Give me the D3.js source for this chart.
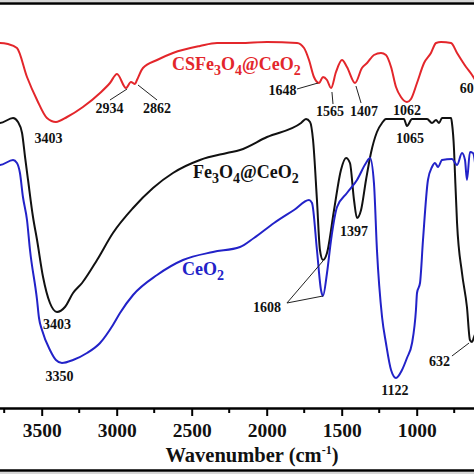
<!DOCTYPE html>
<html>
<head>
<meta charset="utf-8">
<script src="https://cdn.jsdelivr.net/npm/d3@7"></script>
<style>
  body { margin: 0; background: #fff; }
  text { font-family: "Times New Roman", "Liberation Serif", serif; font-weight: bold; }
</style>
</head>
<body>
<script>
// FTIR spectra: wavenumber (cm-1) and transmittance (a.u.)
var csWave = [3850, 3778, 3725, 3665, 3598, 3531, 3465, 3405, 3331, 3225, 3111, 3045, 2998, 2938, 2905, 2878, 2865, 2825, 2731, 2625, 2445, 2331, 2178, 1998, 1798, 1751, 1718, 1685, 1651, 1625, 1598, 1571, 1538, 1498, 1465, 1411, 1365, 1331, 1285, 1238, 1205, 1171, 1138, 1105, 1065, 1038, 998, 951, 905, 871, 838, 771, 731, 671, 631, 578];
var csTrans = [365, 365, 364, 360, 331, 308, 290, 286, 291, 301, 315, 325, 334, 320, 326, 324, 328, 340, 348, 355, 362, 365, 365, 366, 365, 360, 348, 331, 325, 331, 328, 320, 336, 348, 341, 325, 340, 345, 353, 355, 353, 341, 321, 311, 306, 309, 325, 345, 355, 365, 366, 365, 355, 341, 333, 320];

var feWave = [3845, 3778, 3691, 3658, 3631, 3611, 3591, 3558, 3531, 3491, 3445, 3398, 3345, 3291, 3231, 3131, 3025, 2891, 2758, 2625, 2445, 2265, 2178, 1998, 1771, 1738, 1711, 1691, 1665, 1645, 1625, 1598, 1551, 1505, 1471, 1445, 1418, 1398, 1371, 1338, 1305, 1265, 1231, 1205, 1085, 1065, 1031, 931, 898, 871, 851, 831, 771, 765, 751, 745, 731, 698, 665, 645, 631, 618, 578];
var feTrans = [285, 285, 290, 286, 275, 251, 228, 191, 168, 131, 105, 96, 101, 115, 125, 148, 175, 200, 220, 235, 248, 255, 258, 271, 285, 289, 286, 268, 208, 158, 148, 155, 198, 238, 250, 245, 208, 190, 198, 228, 255, 276, 285, 289, 289, 282, 289, 289, 285, 288, 285, 290, 290, 285, 258, 235, 185, 135, 101, 68, 66, 71, 88];

var ceWave = [3845, 3778, 3691, 3665, 3645, 3625, 3598, 3578, 3531, 3518, 3498, 3445, 3405, 3365, 3291, 3198, 3111, 3025, 2978, 2891, 2731, 2558, 2358, 2178, 2085, 1951, 1818, 1718, 1698, 1665, 1638, 1625, 1598, 1571, 1531, 1465, 1398, 1338, 1311, 1285, 1265, 1231, 1205, 1171, 1138, 1098, 1065, 1031, 1005, 998, 978, 958, 925, 898, 878, 858, 831, 765, 731, 698, 678, 665, 645, 625, 605];
var ceTrans = [243, 243, 248, 245, 235, 211, 188, 158, 108, 90, 78, 58, 48, 45, 48, 55, 65, 83, 95, 113, 133, 148, 156, 161, 170, 185, 198, 208, 205, 158, 118, 112, 135, 168, 201, 215, 228, 245, 250, 225, 158, 91, 65, 38, 30, 38, 50, 65, 98, 115, 125, 168, 228, 241, 245, 241, 248, 249, 243, 255, 248, 228, 256, 255, 238];

var majorTicks = [3500, 3000, 2500, 2000, 1500, 1000];
var minorTicks = [3750, 3250, 2750, 2250, 1750, 1250, 750];

// peak labels: text, wavenumber, transmittance
var peakText = ["3403", "2934", "2862", "1648", "1565", "1407", "1062", "605", "1065", "3403", "3350", "1608", "1397", "1122", "632"];
var peakWave = [3455, 3048, 2731, 1895, 1578, 1351, 1065, 643, 1045, 3398, 3381, 1998, 1418, 1145, 848];
var peakTrans = [265, 295, 295, 313, 292, 292, 293, 315, 265, 79, 27, 96, 172, 13, 42];

// leader lines: [wave1, trans1, wave2, trans2]
var leaders = [
    [3045, 308, 2931, 319],
    [2858, 323, 2731, 308],
    [1798, 319, 1658, 325],
    [1565, 316, 1558, 304],
    [1405, 322, 1371, 305],
    [1865, 105, 1625, 147],
    [1865, 105, 1625, 112],
    [765, 52, 651, 65]
];

var w = 474;
var h = 474;

var x = d3.scaleLinear().domain([4000, 400]).range([-33.3, 506.7]);
var y = d3.scaleLinear().domain([0, 405]).range([408, 3]);

var svg = d3.select("body")
    .append("svg")
    .attr("width", w)
    .attr("height", h);

// outer frame pieces
svg.append("rect").attr("x", 0).attr("y", 0).attr("width", w).attr("height", 2).style("fill", "#d6d6d6");
svg.append("rect").attr("x", 0).attr("y", 472).attr("width", w).attr("height", 2).style("fill", "#d6d6d6");
svg.append("line").attr("x1", 0).attr("x2", w).attr("y1", 3.5).attr("y2", 3.5)
    .style("stroke", "#000").style("stroke-width", 2.5);
svg.append("line").attr("x1", 0).attr("x2", w).attr("y1", 470.5).attr("y2", 470.5)
    .style("stroke", "#000").style("stroke-width", 2.5);

var drawSpectrum = function (waves, trans, color) {
    var pts = waves.map((d, i) => [d, trans[i]]);
    var line = d3.line()
        .x((d) => x(d[0]))
        .y((d) => y(d[1]))
        .curve(d3.curveMonotoneX);
    svg.append("path")
        .datum(pts)
        .attr("d", line)
        .style("fill", "none")
        .style("stroke", color)
        .style("stroke-width", 2)
        .style("stroke-linejoin", "round");
}

drawSpectrum(csWave, csTrans, "#e3262b");
drawSpectrum(feWave, feTrans, "#111");
drawSpectrum(ceWave, ceTrans, "#2222c8");

// x axis
var axisG = svg.append("g").attr("transform", "translate(0,408)");
axisG.call(d3.axisBottom(x).tickValues(majorTicks).tickSize(8).tickSizeOuter(0).tickFormat(d3.format("d")));
axisG.select(".domain").style("stroke", "#000").style("stroke-width", 2.5);
axisG.selectAll(".tick line").style("stroke", "#000").style("stroke-width", 2);
axisG.selectAll(".tick text")
    .attr("y", 29)
    .attr("dy", 0)
    .style("font-size", "19.5px")
    .style("font-family", "'Times New Roman', 'Liberation Serif', serif")
    .style("font-weight", "bold")
    .style("fill", "#111");

axisG.selectAll(".minor")
    .data(minorTicks)
    .enter()
    .append("line")
    .attr("class", "minor")
    .attr("x1", (d) => x(d))
    .attr("x2", (d) => x(d))
    .attr("y1", 0)
    .attr("y2", 5)
    .style("stroke", "#000")
    .style("stroke-width", 2);

var title = svg.append("text")
    .attr("x", 252)
    .attr("y", 462)
    .attr("text-anchor", "middle")
    .style("font-size", "20.5px")
    .style("fill", "#111");
title.append("tspan").text("Wavenumber (cm");
title.append("tspan").attr("dy", -8).style("font-size", "12px").text("-1");
title.append("tspan").attr("dy", 8).text(")");

// series labels with subscripts
var seriesLabel = function (parts, wave, trans, color) {
    var t = svg.append("text")
        .attr("x", x(wave))
        .attr("y", y(trans))
        .style("font-size", "18px")
        .style("fill", color);
    var shifted = false;
    parts.forEach((p) => {
        var span = t.append("tspan").text(p[0]);
        if (p[1] && !shifted) {
            span.attr("dy", 5).style("font-size", "14px");
            shifted = true;
        } else if (!p[1] && shifted) {
            span.attr("dy", -5);
            shifted = false;
        }
    });
}

seriesLabel([["CSFe", 0], ["3", 1], ["O", 0], ["4", 1], ["@CeO", 0], ["2", 1]], 2631, 338, "#e3262b");
seriesLabel([["Fe", 0], ["3", 1], ["O", 0], ["4", 1], ["@CeO", 0], ["2", 1]], 2491, 230, "#111");
seriesLabel([["CeO", 0], ["2", 1]], 2565, 133, "#2222c8");

// peak labels
svg.selectAll(".peak")
    .data(peakText)
    .enter()
    .append("text")
    .attr("class", "peak")
    .attr("x", (d, i) => x(peakWave[i]))
    .attr("y", (d, i) => y(peakTrans[i]))
    .attr("text-anchor", "middle")
    .style("font-size", "14px")
    .style("fill", "#111")
    .text((d) => d);

svg.selectAll(".leader")
    .data(leaders)
    .enter()
    .append("line")
    .attr("class", "leader")
    .attr("x1", (d) => x(d[0]))
    .attr("y1", (d) => y(d[1]))
    .attr("x2", (d) => x(d[2]))
    .attr("y2", (d) => y(d[3]))
    .style("stroke", "#222")
    .style("stroke-width", 1);
</script>
</body>
</html>
